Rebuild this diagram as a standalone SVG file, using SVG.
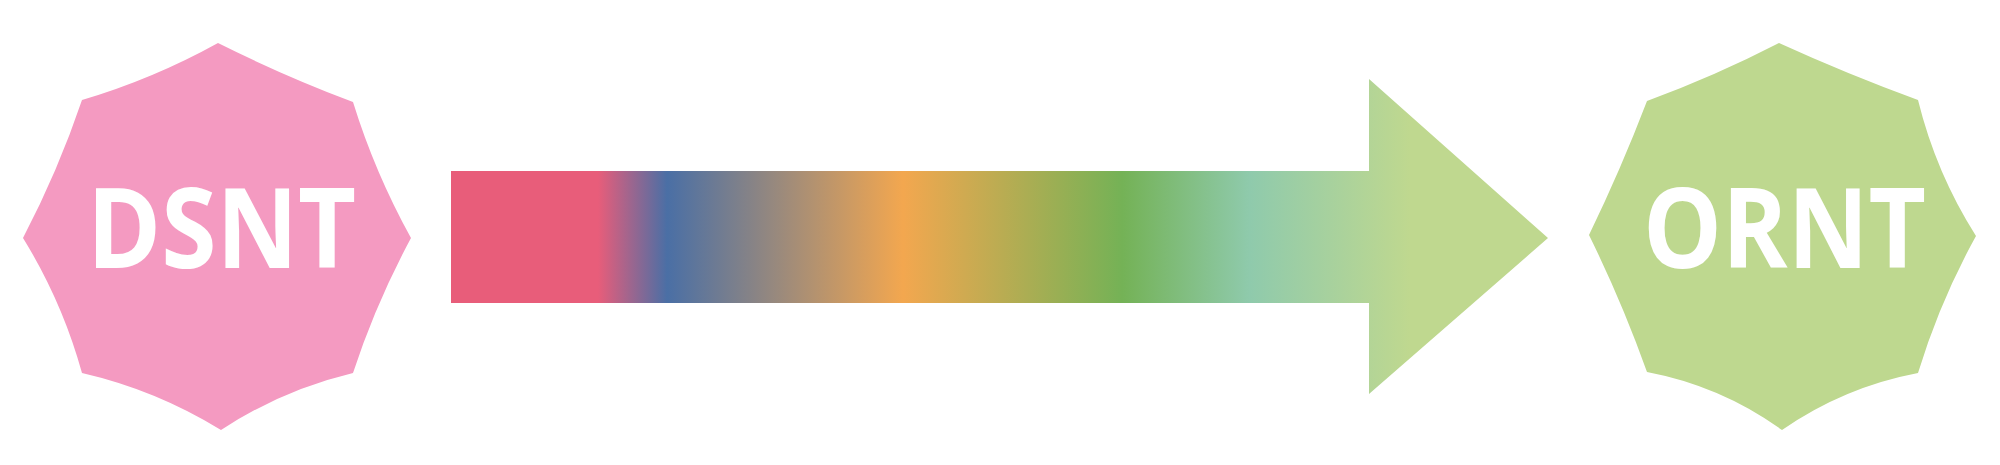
<svg xmlns="http://www.w3.org/2000/svg" width="2000" height="465" viewBox="0 0 2000 465">
  <defs>
    <linearGradient id="flow" gradientUnits="userSpaceOnUse" x1="451" y1="0" x2="1548" y2="0">
      <stop offset="0" stop-color="#E85D7A"/>
      <stop offset="0.134" stop-color="#E85D7A"/>
      <stop offset="0.197" stop-color="#4A6FA5"/>
      <stop offset="0.412" stop-color="#F3A74F"/>
      <stop offset="0.612" stop-color="#74B256"/>
      <stop offset="0.728" stop-color="#8FCAAC"/>
      <stop offset="0.874" stop-color="#BFD88F"/>
      <stop offset="1" stop-color="#BFD88F"/>
    </linearGradient>
  </defs>
  <style>
    .label { font-family: "Open Sans", "Noto Sans", "Liberation Sans", sans-serif; font-weight: 700; font-size: 112px; fill: #FFFFFF; }
    .pink { fill: #F49AC1; }
    .green { fill: #BED88F; }
  </style>
  <rect width="2000" height="465" fill="#FFFFFF"/>
  <g id="DSNT">
    <path class="pink" d="M218 43 Q284 76 353 102 Q375 173 411 238 Q376 303 353 373 Q282 390 221 430 Q156 390 82 373 Q62 301 23 238 Q58 171 82 100 Q153 79 218 43 Z"/>
    <text class="label" x="87" y="268" textLength="269" lengthAdjust="spacingAndGlyphs">DSNT</text>
  </g>
  <g id="connectors">
    <path fill="url(#flow)" d="M451 171 L1369 171 L1369 79 L1548 238 L1369 394 L1369 303 L451 303 Z"/>
  </g>
  <g id="ORNT">
    <path class="green" d="M1779 43 Q1847 74 1918 100 Q1936 173 1976 236 Q1940 301 1918 373 Q1844 387 1782 430 Q1721 386 1647 372 Q1622 302 1589 235 Q1621 169 1647 101 Q1715 76 1779 43 Z"/>
    <text class="label" x="1643" y="268" textLength="283" lengthAdjust="spacingAndGlyphs">ORNT</text>
  </g>
</svg>
